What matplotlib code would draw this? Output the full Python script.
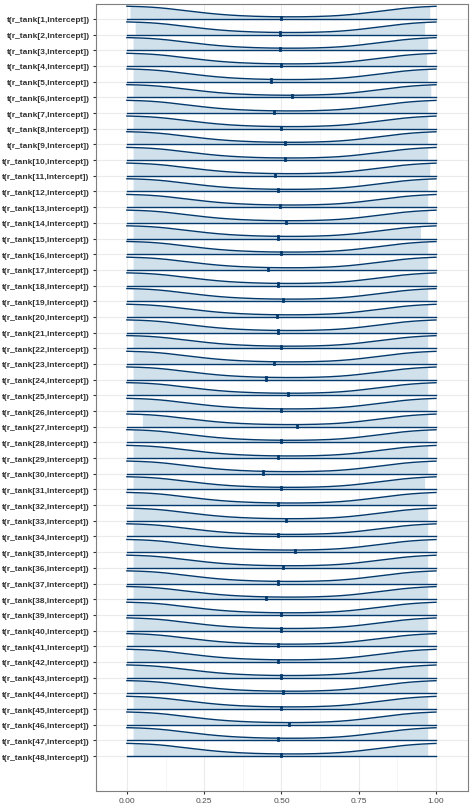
"""
    Rank plot of r_tank intercepts (areas style)
"""
import numpy as np
import matplotlib.pyplot as plt

labels = ['t(r_tank[%d,Intercept])' % i for i in range(1, 49)]
medians = [0.50, 0.495, 0.495, 0.50, 0.465, 0.535, 0.475, 0.50, 0.51, 0.51,
           0.48, 0.49, 0.495, 0.515, 0.49, 0.50, 0.455, 0.49, 0.505, 0.485,
           0.49, 0.50, 0.475, 0.45, 0.52, 0.50, 0.55, 0.50, 0.49, 0.44,
           0.50, 0.49, 0.515, 0.49, 0.545, 0.505, 0.49, 0.45, 0.50, 0.50,
           0.49, 0.49, 0.50, 0.505, 0.50, 0.525, 0.49, 0.50]
lows = [0.01, 0.025, 0.02, 0.02, 0.02, 0.02, 0.02, 0.02, 0.02, 0.02,
        0.02, 0.02, 0.02, 0.02, 0.02, 0.02, 0.02, 0.02, 0.02, 0.02,
        0.02, 0.02, 0.02, 0.02, 0.02, 0.02, 0.05, 0.02, 0.02, 0.02,
        0.02, 0.02, 0.02, 0.02, 0.02, 0.02, 0.02, 0.02, 0.02, 0.02,
        0.02, 0.02, 0.02, 0.02, 0.02, 0.02, 0.02, 0.02]
highs = [0.98, 0.965, 0.975, 0.97, 0.975, 0.985, 0.975, 0.975, 0.975, 0.975,
         0.98, 0.975, 0.975, 0.975, 0.95, 0.975, 0.975, 0.975, 0.975, 0.975,
         0.975, 0.975, 0.975, 0.975, 0.975, 0.975, 0.975, 0.975, 0.975, 0.975,
         0.965, 0.975, 0.975, 0.975, 0.975, 0.975, 0.975, 0.975, 0.975, 0.975,
         0.975, 0.975, 0.975, 0.975, 0.975, 0.975, 0.975, 0.975]
# shared density profile (height in row units)
prof_x = [0.0, 0.1, 0.2, 0.3, 0.4, 0.5, 0.6, 0.7, 0.8, 0.9, 1.0]
prof_y = [0.82, 0.74, 0.5, 0.28, 0.17, 0.13, 0.14, 0.22, 0.44, 0.7, 0.82]

fill_c = '#d1e1ec'
line_c = '#03396c'
fs = 6

fig = plt.figure(figsize=[4.74, 8.12], dpi=100)
ax = fig.add_axes([0.2025, 0.0246, 0.7845, 0.9692])

xs = np.linspace(0, 1, 300)
dens = np.interp(xs, prof_x, prof_y)
# smooth the piecewise profile a little
k = np.ones(31) / 31
dens = np.convolve(np.pad(dens, 15, mode='edge'), k, mode='valid')

n = len(labels)
for i in range(n):
    y0 = n - 1 - i
    m = (xs >= lows[i]) & (xs <= highs[i])
    ax.fill_between(xs[m], y0, y0 + dens[m], color=fill_c, lw=0, zorder=2 + i)
    ax.plot(xs, y0 + dens, color=line_c, lw=1.0, zorder=2 + i)
    ax.plot([0, 1], [y0, y0], color=line_c, lw=1.0, zorder=2 + i)
    hm = np.interp(medians[i], xs, dens)
    ax.plot([medians[i], medians[i]], [y0, y0 + hm], color=line_c, lw=2.0,
            zorder=2 + i)

ax.set_xlim(-0.1, 1.103)
ax.set_ylim(-2.23, n - 1 + 0.95)
ax.set_xticks([0, 0.25, 0.5, 0.75, 1.0])
ax.set_xticklabels(['0.00', '0.25', '0.50', '0.75', '1.00'], fontsize=fs,
                   color='#4d4d4d', family='Liberation Sans')
ax.set_xticks([0.125, 0.375, 0.625, 0.875], minor=True)
ax.set_yticks(range(n))
ax.set_yticklabels(labels[::-1], fontsize=fs, fontweight='bold',
                   color='#333333', family='Liberation Sans')
ax.tick_params(length=2.5, color='#333333', width=0.8, pad=2)
ax.tick_params(which='minor', length=0)
ax.grid(True, which='major', color='#ebebeb', lw=0.8, zorder=0)
ax.grid(True, which='minor', axis='x', color='#f3f3f3', lw=0.5, zorder=0)
ax.set_axisbelow(True)
for s in ax.spines.values():
    s.set_color('#7f7f7f')
    s.set_linewidth(0.8)

plt.savefig('out.png', dpi=100)
